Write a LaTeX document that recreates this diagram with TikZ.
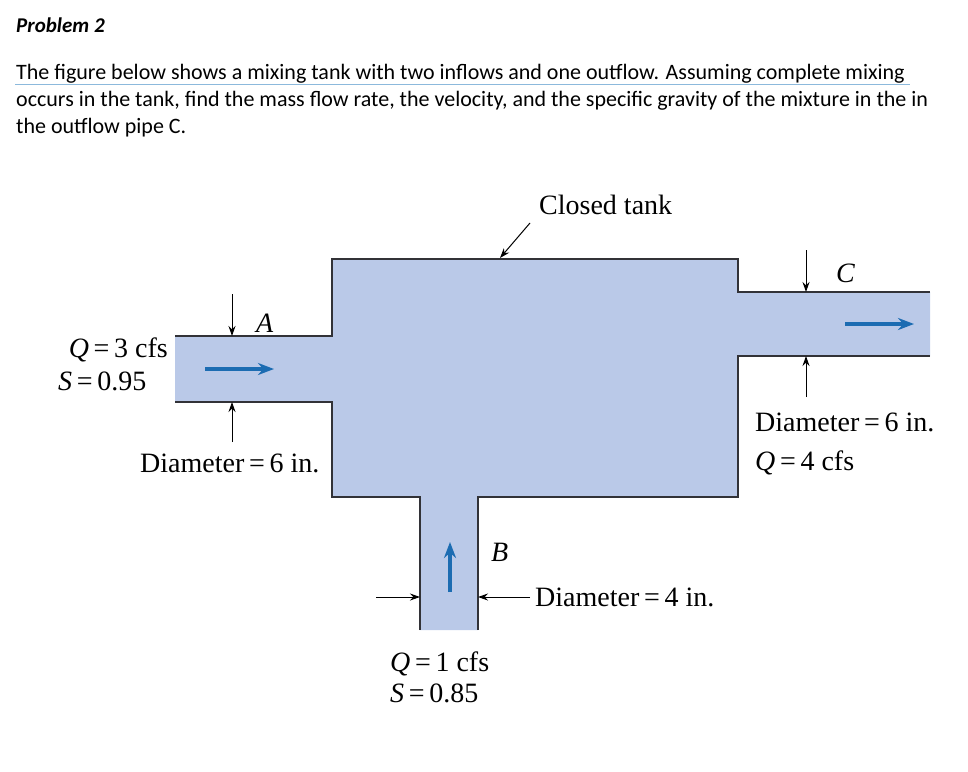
\documentclass[tikz,border=0pt]{standalone}
\usepackage{fontspec}
\setmainfont{Liberation Serif}
\newfontfamily\hdr{Carlito}
\usetikzlibrary{arrows.meta}
\definecolor{fillb}{RGB}{186,201,232}
\definecolor{flowb}{RGB}{28,108,178}
\definecolor{edge}{RGB}{50,50,55}
\definecolor{ulb}{RGB}{140,185,220}
\tikzset{
  hd/.style={font=\hdr\fontsize{22}{26}\selectfont, anchor=base west, inner sep=0},
  lb/.style={font=\fontsize{28}{32}\selectfont, anchor=base west, inner sep=0},
  dim/.style={-{Stealth[length=10pt,width=7pt]}, line width=1pt},
  flow/.style={-{Stealth[length=16pt,width=12pt]}, line width=3.2pt, flowb},
  wall/.style={edge, line width=1.3pt}
}
\begin{document}
\begin{tikzpicture}[x=1pt,y=-1pt]
\useasboundingbox (0,0) rectangle (968,771);
\node[hd, font=\hdr\fontsize{21}{25}\selectfont\bfseries\itshape] (t0) at (16,32) {Problem 2};
\node[hd] (t1) at (16,79) {The figure below shows a mixing tank with two inflows and one outflow. Assuming complete mixing};
\node[hd] (t2) at (16,106) {occurs in the tank, find the mass flow rate, the velocity, and the specific gravity of the mixture in the in};
\node[hd] (t3) at (16,133) {the outflow pipe C.};
\draw[ulb, line width=0.8pt] (15,84) -- (910,84);
% tank
\fill[fillb] (175,336) -- (332,336) -- (332,259) -- (738,259) -- (738,292) -- (930,292) -- (930,356) -- (738,356) -- (738,497) -- (478,497) -- (478,630) -- (420,630) -- (420,497) -- (332,497) -- (332,402) -- (175,402) -- cycle;
\draw[wall] (175,336) -- (332,336) -- (332,259) -- (738,259) -- (738,292) -- (930,292);
\draw[wall] (930,356) -- (738,356) -- (738,497) -- (478,497) -- (478,630);
\draw[wall] (420,630) -- (420,497) -- (332,497) -- (332,402) -- (175,402);
% A
\coordinate (a1) at (232,294); \coordinate (a2) at (232,336);
\coordinate (a3) at (232,442); \coordinate (a4) at (232,402);
\draw[dim] (a1) -- (a2); \draw[dim] (a3) -- (a4);
\node[lb] (A) at (256,332) {\textit{A}};
\coordinate (fa1) at (205,369); \coordinate (fa2) at (274,369);
\draw[flow] (fa1) -- (fa2);
\node[lb, anchor=base east] (qa) at (168,357) {\textit{Q}\,=\,3 cfs};
\node[lb, anchor=base west] (sa) at (58,390) {\textit{S}\,=\,0.95};
\node[lb] (da) at (140,472) {Diameter\,=\,6 in.};
% C
\coordinate (c1) at (806,250); \coordinate (c2) at (806,292);
\coordinate (c3) at (806,397); \coordinate (c4) at (806,356);
\draw[dim] (c1) -- (c2); \draw[dim] (c3) -- (c4);
\node[lb] (C) at (836,282) {\textit{C}};
\coordinate (fc1) at (845,324); \coordinate (fc2) at (914,324);
\draw[flow] (fc1) -- (fc2);
\node[lb] (dc) at (755,431) {Diameter\,=\,6 in.};
\node[lb] (qc) at (755,470) {\textit{Q}\,=\,4 cfs};
% B
\coordinate (b1) at (376,597); \coordinate (b2) at (420,597);
\coordinate (b3) at (530,597); \coordinate (b4) at (478,597);
\draw[dim] (b1) -- (b2); \draw[dim] (b3) -- (b4);
\node[lb] (B) at (491,561) {\textit{B}};
\node[lb] (db) at (535,606) {Diameter\,=\,4 in.};
\coordinate (fb1) at (450,592); \coordinate (fb2) at (450,542);
\draw[flow] (fb1) -- (fb2);
\node[lb] (qb) at (390,671) {\textit{Q}\,=\,1 cfs};
\node[lb] (sb) at (390,702) {\textit{S}\,=\,0.85};
% closed tank
\node[lb] (ct) at (539,214) {Closed tank};
\coordinate (ct1) at (530,223); \coordinate (ct2) at (500,258);
\draw[dim] (ct1) -- (ct2);
\end{tikzpicture}
\end{document}
